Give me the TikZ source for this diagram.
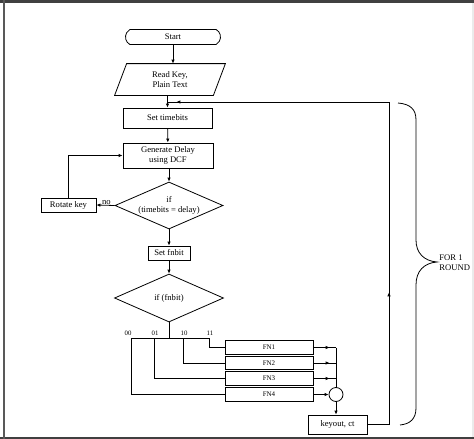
\documentclass[tikz,border=0pt]{standalone}
\usepackage{fontspec}
\setmainfont{Liberation Serif}
\usetikzlibrary{arrows.meta,shapes.misc,shapes.geometric,decorations.markings}
\begin{document}
\begin{tikzpicture}[x=1pt,y=-1pt,line width=0.8pt,
  >={Latex[length=4pt,width=3.5pt]},
  txt/.style={font=\fontsize{8.6}{9.6}\selectfont},
  box/.style={draw,rectangle,inner sep=0pt,align=center,txt},
  fnbox/.style={box,minimum width=88pt,minimum height=13.5pt,font=\fontsize{7}{7.5}\selectfont},
  dia/.style={draw,diamond,aspect=2.3,inner sep=0pt,align=center,txt},
  small/.style={font=\fontsize{6.8}{7}\selectfont,inner sep=0pt},
  midarrow/.style={postaction={decorate},decoration={markings,mark=at position #1 with {\arrow{Latex[length=4pt,width=3.5pt]}}}}]
\useasboundingbox (0,0) rectangle (474,439);
% frame
\fill[black!8] (471.5,0) rectangle (474,439);
\fill[black!75] (0,0) rectangle (474,2.5);
\fill[black!75] (0,436.5) rectangle (474,439);
\fill[black!65] (3,0) rectangle (4.5,439);

% nodes
\node[draw,rounded rectangle,rounded rectangle arc length=120,minimum width=95pt,minimum height=15pt,inner sep=0pt,txt] (start) at (173,37) {Start};
\node[inner sep=0pt,minimum width=110pt,minimum height=31pt,align=center,txt] (read) at (170,79.5) {Read Key,\\Plain Text};
\draw (read.south west) -- ([xshift=12pt]read.north west) -- (read.north east) -- ([xshift=-12pt]read.south east) -- cycle;
\node[box,minimum width=89pt,minimum height=20pt] (timebits) at (167.5,118) {Set timebits};
\node[box,minimum width=90pt,minimum height=25pt] (gen) at (168,155.5) {Generate Delay\\using DCF};
\node[dia,minimum width=108pt,minimum height=47pt] (d1) at (169,205.5) {if\\(timebits = delay)};
\node[box,minimum width=55pt,minimum height=14pt] (rot) at (68.5,205) {Rotate key};
\node[box,minimum width=42pt,minimum height=14pt] (fnbit) at (169,253) {Set fnbit};
\node[dia,minimum width=109pt,minimum height=48pt] (d2) at (169,298) {if (fnbit)};
\node[fnbox] (fn1) at (269,347.5) {FN1};
\node[fnbox] (fn2) at (269,363) {FN2};
\node[fnbox] (fn3) at (269,378.5) {FN3};
\node[fnbox] (fn4) at (269,394.5) {FN4};
\node[draw,circle,minimum size=14pt,inner sep=0pt] (sum) at (336,394.5) {};
\node[box,minimum width=59pt,minimum height=19pt] (keyout) at (337.5,424.5) {keyout, ct};

\coordinate (j) at (167.5,102);
\coordinate (b) at (169,338);
\coordinate (b00) at (131,338);
\coordinate (b01) at (154,338);
\coordinate (b10) at (183,338);
\coordinate (b11) at (209,338);
\coordinate (c1) at (336,347.5);
\coordinate (r1) at (389,424.5);
\coordinate (r2) at (389,102);

% connectors
\draw[->] (start.south) -- (start.south |- read.north);
\draw[->] (read.south -| timebits) -- (timebits.north);
\draw[->] (timebits) -- (gen);
\draw[->] (gen.south -| d1.north) -- (d1.north);
\draw[->] (d1.west) -- (rot.east) node[pos=0.45,above=0.5pt,txt,inner sep=0pt] {no};
\draw[->] (rot.north) |- (gen.west);
\draw[->] (d1.south) -- (fnbit.north);
\draw[->] (fnbit) -- (d2);
\draw (d2.south) -- (b);
\draw (b00) -- (b11);
\draw (b00) |- (fn4.west);
\draw (b01) |- (fn3.west);
\draw (b10) |- (fn2.west);
\draw (b11) |- (fn1.west);
\node[small,anchor=south] at (128,336) {00};
\node[small,anchor=south] at (155,336) {01};
\node[small,anchor=south] at (184,336) {10};
\node[small,anchor=south] at (210,336) {11};
\draw[midarrow=0.72] (fn1.east) -- (c1);
\draw[midarrow=0.72] (fn2.east) -- (fn2.east -| sum);
\draw[midarrow=0.72] (fn3.east) -- (fn3.east -| sum);
\draw[->] (fn4.east) -- (sum.west);
\draw (c1) -- (sum.north);
\draw[->] (sum.south) -- (sum.south |- keyout.north);
\draw (keyout.east) -- (r1);
\draw[midarrow=0.41] (r1) -- (r2);
\draw[midarrow=0.96] (r2) -- (j);

% brace
\draw (398,103) .. controls (410,104) and (416,109) .. (416,120) -- (416,240)
  .. controls (416,253) and (424,261) .. (437,262)
  .. controls (424,263) and (416,271) .. (416,285) -- (416,408)
  .. controls (416,419) and (410,424) .. (400,425);
\node[txt,anchor=west,align=left,inner sep=0pt] (lbl) at (439,262.5) {FOR 1\\ROUND};
\end{tikzpicture}
\end{document}
